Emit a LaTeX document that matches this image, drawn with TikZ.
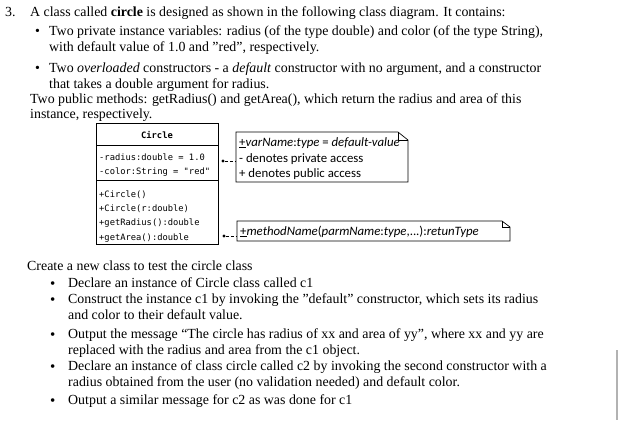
\documentclass[tikz,border=0pt]{standalone}
\usepackage{fontspec}
\setmainfont{Liberation Serif}
\newfontfamily\uml{DejaVu Sans Mono}[Scale=0.82]
\newfontfamily\umls{Carlito}
\begin{document}
\begin{tikzpicture}[x=1pt,y=-1pt,
  body/.style={anchor=base west,inner sep=0,font=\fontsize{13.9}{15}\selectfont},
  code/.style={anchor=base west,inner sep=0,font=\uml\fontsize{10.7}{12}\selectfont},
  notetxt/.style={anchor=base west,inner sep=0,font=\umls\fontsize{12.8}{14}\selectfont},
  bul/.style={anchor=base west,inner sep=0,font=\fontsize{15}{15}\selectfont},
  dotc/.style={circle,fill=black,inner sep=0,minimum size=3.2pt},
  conn/.style={densely dashed,line width=0.6pt},
  frame/.style={line width=0.7pt}]
\useasboundingbox (0,0) rectangle (622,424);
\fill[white] (0,0) rectangle (622,424);
% top text
\node[body] (n3) at (5,16) {3.};
\node[body] (t1) at (30,16) {A class called \textbf{circle} is designed as shown in the following class diagram. It contains:};
\node[body] (b1) at (35,35) {•};
\node[body] (t2) at (49,35) {Two private instance variables: radius (of the type double) and color (of the type String),};
\node[body] (t3) at (49,51) {with default value of 1.0 and "red", respectively.};
\node[body] (b2) at (35,72) {•};
\node[body] (t4) at (49,72) {Two \textit{overloaded} constructors - a \textit{default} constructor with no argument, and a constructor};
\node[body] (t5) at (49,88) {that takes a double argument for radius.};
\node[body] (t6) at (30,103) {Two public methods: getRadius() and getArea(), which return the radius and area of this};
\node[body] (t7) at (30,118) {instance, respectively.};
% class box
\draw[frame] (96,123) rectangle (218,244);
\draw[frame] (96,145) -- (218,145);
\draw[frame] (96,180) -- (218,180);
\node[anchor=base,inner sep=0,font=\uml\bfseries\fontsize{10.7}{12}\selectfont] (cn) at (157,138) {Circle};
\node[code] (a1) at (99,160) {-radius:double = 1.0};
\node[code] (a2) at (99,174) {-color:String = "red"};
\node[code] (m1) at (99,197) {+Circle()};
\node[code] (m2) at (99,211) {+Circle(r:double)};
\node[code] (m3) at (99,225) {+getRadius():double};
\node[code] (m4) at (99,240) {+getArea():double};
% note 1
\draw[frame] (236,132) -- (398,132) -- (408,140) -- (408,182) -- (236,182) -- cycle;
\draw[frame] (398,132) -- (398,140) -- (408,140);
\node[notetxt] (v1) at (239,146) {\underline{+}\textit{varName}:\textit{type} = \textit{default-value}};
\node[notetxt] (v2) at (239,162) {- denotes private access};
\node[notetxt] (v3) at (239,177) {+ denotes public access};
% note 2
\draw[frame] (237,221) -- (502,221) -- (510,227) -- (510,241) -- (237,241) -- cycle;
\draw[frame] (502,221) -- (502,227) -- (510,227);
\node[notetxt] (w1) at (240,235) {\underline{+}\textit{methodName}(\textit{parmName}:\textit{type},...):\textit{retunType}};
% connectors
\node[dotc] (d1) at (223,161) {};
\coordinate (e1) at (236,161);
\draw[conn] (d1) -- (e1);
\node[dotc] (d2) at (224,236) {};
\coordinate (e2) at (237,236);
\draw[conn] (d2) -- (e2);
% bottom text
\node[body] (c0) at (27,270) {Create a new class to test the circle class};
\node[bul] (c1b) at (50,288) {•};
\node[body] (c1) at (68,287) {Declare an instance of Circle class called c1};
\node[bul] (c2b) at (50,304) {•};
\node[body] (c2) at (68,303) {Construct the instance c1 by invoking the "default" constructor, which sets its radius};
\node[body] (c3) at (68,319) {and color to their default value.};
\node[bul] (c4b) at (50,339) {•};
\node[body] (c4) at (68,338) {Output the message “The circle has radius of xx and area of yy”, where xx and yy are};
\node[body] (c5) at (68,354) {replaced with the radius and area from the c1 object.};
\node[bul] (c6b) at (50,371) {•};
\node[body] (c6) at (68,370) {Declare an instance of class circle called c2 by invoking the second constructor with a};
\node[body] (c7) at (68,386) {radius obtained from the user (no validation needed) and default color.};
\node[bul] (c8b) at (50,405) {•};
\node[body] (c8) at (68,404) {Output a similar message for c2 as was done for c1};
\draw[line width=2pt,gray!60] (617,350) -- (617,420);
\end{tikzpicture}
\end{document}
